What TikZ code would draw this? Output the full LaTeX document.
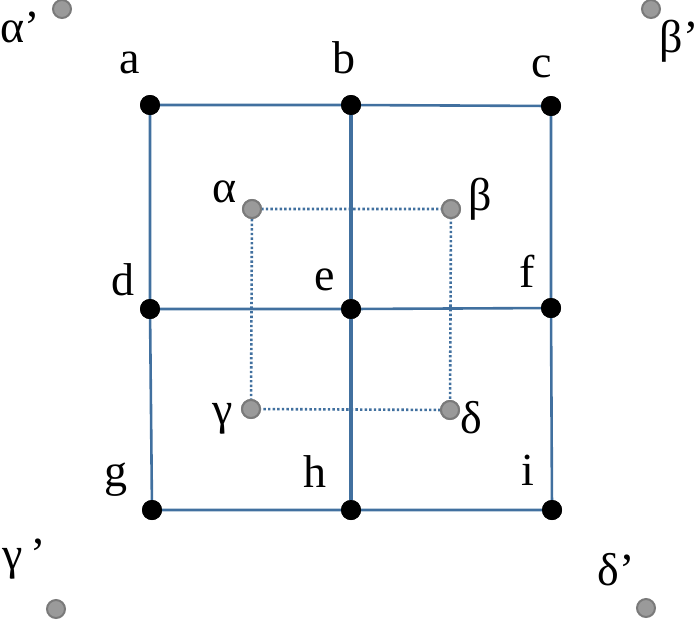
\documentclass[tikz,border=0pt]{standalone}
\usepackage{fontspec}
\setmainfont{Liberation Serif}
\begin{document}
\begin{tikzpicture}[x=1pt,y=-1pt,
  gridline/.style={draw=edgeblue,line width=2.6pt},
  midline/.style={draw=edgeblue,line width=3.6pt},
  dotline/.style={draw=edgeblue,line width=2.6pt,dash pattern=on 2.4pt off 2.2pt},
  blackdot/.style={circle,fill=black,inner sep=0pt,minimum size=20pt},
  graydot/.style={circle,fill=dotgray,draw=dotborder,line width=2pt,inner sep=0pt,minimum size=18pt},
  lbl/.style={font=\fontsize{46}{46}\selectfont,inner sep=0pt,anchor=base}]
\definecolor{edgeblue}{HTML}{41709F}
\definecolor{dotgray}{HTML}{9A9A9A}
\definecolor{dotborder}{HTML}{7A7A7A}
\useasboundingbox (0,0) rectangle (700,619);
% black nodes
\node[blackdot] (a) at (150,105) {};
\node[blackdot] (b) at (351,105) {};
\node[blackdot] (c) at (551,106) {};
\node[blackdot] (d) at (150,309) {};
\node[blackdot] (e) at (351,309) {};
\node[blackdot] (f) at (551,308) {};
\node[blackdot] (g) at (152,510) {};
\node[blackdot] (h) at (351,510) {};
\node[blackdot] (i) at (552,510) {};
% gray nodes
\node[graydot] (al) at (252,209) {};
\node[graydot] (be) at (451,209) {};
\node[graydot] (ga) at (251,409) {};
\node[graydot] (de) at (450,410) {};
\node[graydot] (alp) at (62,9) {};
\node[graydot] (bep) at (651,9) {};
\node[graydot] (gap) at (56,609) {};
\node[graydot] (dep) at (646,608) {};
% edges
\path[dotline] (al.center) -- (be.center) -- (de.center) -- (ga.center) -- cycle;
\path[gridline] (a.center) -- (b.center) -- (c.center) -- (f.center) -- (i.center) -- (h.center) -- (g.center) -- (d.center) -- cycle;
\path[gridline] (d.center) -- (e.center) -- (f.center);
\path[midline] (b.center) -- (e.center) -- (h.center);
% redraw dots on top of the lines
\foreach \n in {a,b,c,d,e,f,g,h,i}
  \node[blackdot] at (\n) {};
\foreach \n in {al,be,ga,de}
  \node[graydot] at (\n) {};
% labels (placed on their baselines)
\node[lbl] (la) at (130,73) {a};
\node[lbl] (lb) at (344,73) {b};
\node[lbl] (lc) at (542,77) {c};
\node[lbl] (ld) at (123,295) {d};
\node[lbl] (le) at (325,290) {e};
\node[lbl] (lf) at (527,287) {f};
\node[lbl] (lg) at (116,486) {g};
\node[lbl] (lh) at (315,487) {h};
\node[lbl] (li) at (528,485) {i};
\node[lbl] (lal) at (225,202) {α};
\node[lbl] (lbe) at (480,210) {β};
\node[lbl] (lga) at (223,424) {γ};
\node[lbl] (lde) at (471,433) {δ};
\node[lbl] (lalp) at (20,42) {α’};
\node[lbl] (lbep) at (679,52) {β’};
\node[lbl] (lgap) at (24,569) {γ\,’};
\node[lbl] (ldep) at (616,585) {δ’};
\end{tikzpicture}
\end{document}
